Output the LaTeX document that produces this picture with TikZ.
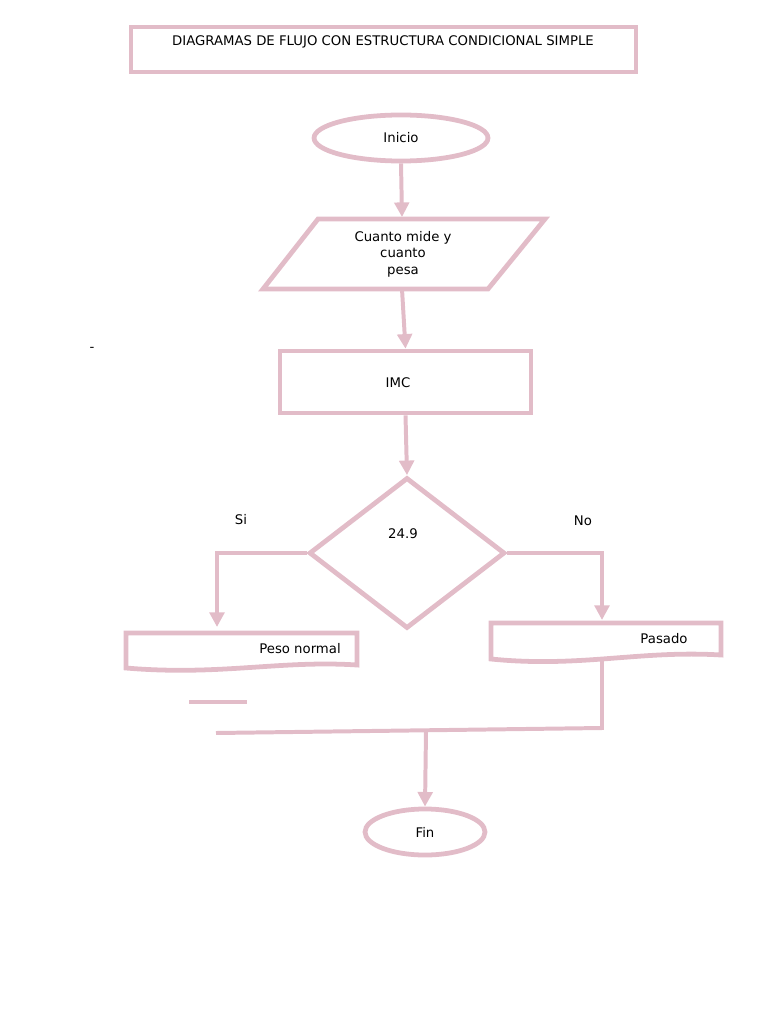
\documentclass[tikz,border=0pt]{standalone}
\usepackage{fontspec}
\setmainfont{DejaVu Sans}
\usetikzlibrary{arrows.meta,shapes.geometric}
\definecolor{rosa}{RGB}{226,188,200}
\tikzset{
  box/.style={draw=rosa,line width=3.6pt},
  flow/.style={draw=rosa,line width=3pt,-{Triangle[length=11pt,width=11pt]}},
  plain/.style={draw=rosa,line width=3pt},
}
\begin{document}
\begin{tikzpicture}[x=0.0265cm,y=-0.0265cm,font=\fontsize{10}{12.5}\selectfont]

\path [use as bounding box] (0,0) rectangle (768,1024);

% TITLE
\node [box,minimum width=13.38cm,minimum height=1.19cm] (title) at (383.5,49.5) {};
\node at (383,42) {DIAGRAMAS DE FLUJO CON ESTRUCTURA CONDICIONAL SIMPLE};

% START / INPUT / PROCESS
\node [box,ellipse,minimum width=4.61cm,minimum height=1.22cm] (inicio) at (401,138) {Inicio};
\draw [box] (263,289) -- (318,219) -- (545,219) -- (488,289) -- cycle;
\coordinate (datostop) at (402,217);
\coordinate (datosbot) at (402,289);
\node [align=center] (datos) at (403,254) {Cuanto mide y\\cuanto\\pesa};
\node [box,minimum width=6.65cm,minimum height=1.64cm] (imc) at (405.5,382) {};
\node at (398,383) {IMC};

% DECISION
\node [box,diamond,minimum width=5.19cm,minimum height=4cm,aspect=1.3,inner sep=0pt] (cond) at (407,553) {};
\node at (403,534) {24.9};
\node (si) at (241,520) {Si};
\node (no) at (583,521) {No};

% OUTPUTS
\draw [box] (126,633) -- (357,633) -- (357,665)
  .. controls (280,660) and (220,676) .. (126,668) -- cycle;
\node (normal) at (300,649) {Peso normal};
\coordinate (normaltop) at (217,627);
\draw [box] (491,623) -- (721,623) -- (721,655)
  .. controls (640,650) and (580,668) .. (491,659) -- cycle;
\node (pasado) at (664,639) {Pasado};
\coordinate (pasadotop) at (602,620);
\coordinate (pasadobot) at (602,661);

% JOIN
\coordinate (junta) at (602,728);
\coordinate (juntaizq) at (216,733);
\coordinate (baja) at (426,731);
\draw [plain] (189,702) -- (247,702);
\node [box,ellipse,minimum width=3.18cm,minimum height=1.22cm] (fin) at (425,832) {Fin};
\node at (92,349) {-};

% ARROWS
\draw [flow] (inicio.south) -- (datostop);
\draw [flow] (datosbot) -- (imc.north);
\draw [flow] (imc.south) -- (cond.north);
\draw [flow] (cond.west) -| (normaltop);
\draw [flow] (cond.east) -| (pasadotop);
\draw [plain] (pasadobot) -- (junta) -- (juntaizq);
\draw [flow] (baja) -- (fin.north);

\end{tikzpicture}
\end{document}
